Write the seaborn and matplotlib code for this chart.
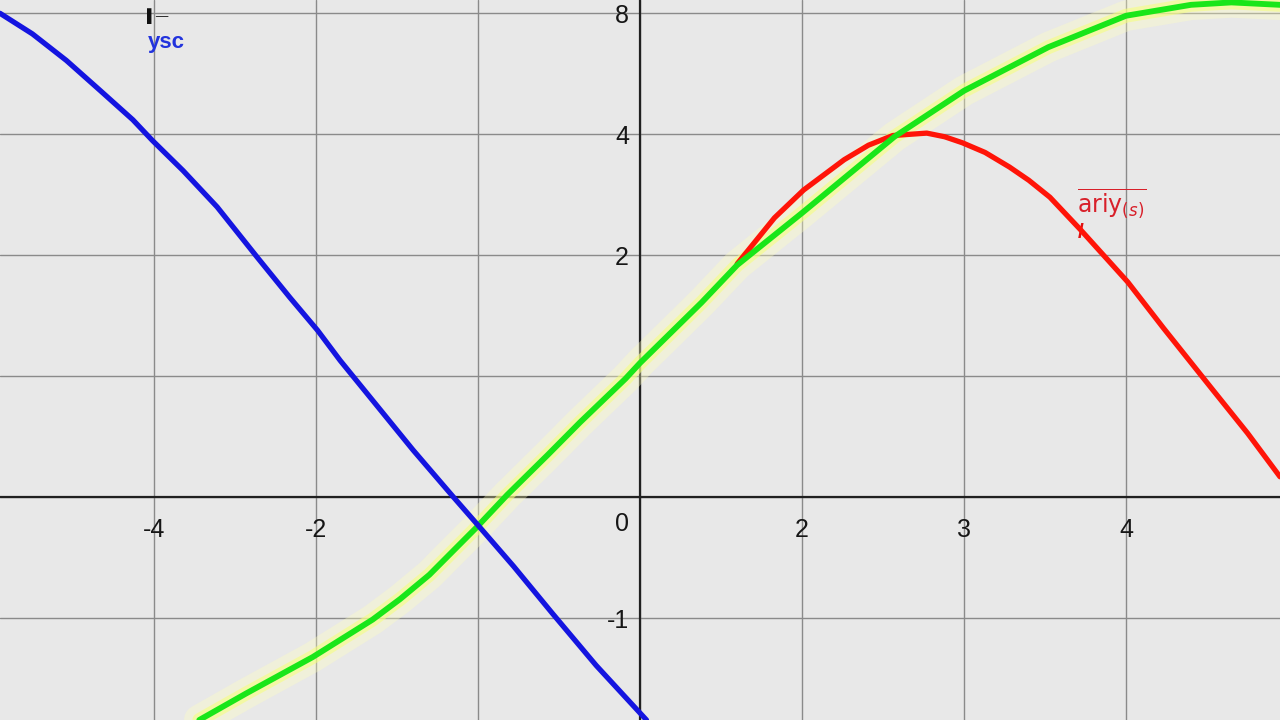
import numpy as np
import pandas as pd
import matplotlib
matplotlib.use("Agg")
import matplotlib.pyplot as plt
import seaborn as sns

# values, in grid units (one grid cell = 1)
blue_x = [-3.95, -3.75, -3.54, -3.33, -3.13, -3.01, -2.82, -2.61, -2.36, -2.16, -1.99,
          -1.85, -1.40, -1.15, -1.00, -0.78, -0.54, -0.27, 0.04]
blue_y = [4.00, 3.83, 3.61, 3.36, 3.12, 2.95, 2.70, 2.40, 1.98, 1.65, 1.38,
          1.13, 0.39, 0.00, -0.23, -0.57, -0.96, -1.39, -1.84]

green_x = [-2.72, -2.43, -2.02, -1.65, -1.48, -1.30, -1.01, -0.82, -0.57, -0.37, -0.09,
           0.00, 0.38, 0.60, 1.00, 1.57, 2.00, 2.52, 3.00, 3.40, 3.65, 3.95]
green_y = [-1.84, -1.62, -1.32, -1.01, -0.84, -0.64, -0.25, 0.02, 0.35, 0.62, 0.98,
           1.11, 1.61, 1.92, 2.35, 2.98, 3.36, 3.72, 3.98, 4.07, 4.09, 4.07]

red_x = [0.60, 0.83, 1.01, 1.26, 1.41, 1.56, 1.77, 1.88, 1.99, 2.13, 2.28, 2.40, 2.53,
         2.72, 3.01, 3.23, 3.54, 3.75, 3.95]
red_y = [1.93, 2.31, 2.54, 2.79, 2.91, 2.99, 3.01, 2.98, 2.93, 2.85, 2.73, 2.62, 2.48,
         2.21, 1.78, 1.40, 0.88, 0.53, 0.17]

x_ticks = [-3, -2, -1, 0, 1, 2, 3]
x_labels = ["-4", "-2", "", "", "2", "3", "4"]
y_ticks = [-1, 0, 1, 2, 3, 4]
y_labels = ["-1", "", "", "2", "4", "8"]

sns.set_style("whitegrid", {"axes.facecolor": "#e8e8e8", "grid.color": "#8a8a8a"})
plt.rcParams["font.family"] = ["Liberation Sans", "DejaVu Sans"]

blue = pd.DataFrame({"x": blue_x, "y": blue_y})
green = pd.DataFrame({"x": green_x, "y": green_y})
red = pd.DataFrame({"x": red_x, "y": red_y})

fig = plt.figure(figsize=(12.8, 7.2), dpi=100)
fig.patch.set_facecolor("#e8e8e8")
ax = fig.add_axes([0, 0, 1, 1])

# soft yellow glow under the green curve
sns.lineplot(data=green, x="x", y="y", ax=ax, color="#ffffc0", lw=22, alpha=0.35, zorder=3)
sns.lineplot(data=green, x="x", y="y", ax=ax, color="#f6ff80", lw=10, alpha=0.6, zorder=3)
sns.lineplot(data=red, x="x", y="y", ax=ax, color="#ff1408", lw=3.8, zorder=4)
sns.lineplot(data=green, x="x", y="y", ax=ax, color="#19e619", lw=4.2, zorder=5)
sns.lineplot(data=blue, x="x", y="y", ax=ax, color="#1414e0", lw=3.8, zorder=5)

ax.set_xlim(-3.95, 3.95)
ax.set_ylim(-1.84, 4.11)
ax.set_xlabel("")
ax.set_ylabel("")

for side in ["top", "right"]:
    ax.spines[side].set_visible(False)
ax.spines["left"].set_position("zero")
ax.spines["bottom"].set_position("zero")
for side in ["left", "bottom"]:
    ax.spines[side].set_color("#202020")
    ax.spines[side].set_linewidth(1.6)
    ax.spines[side].set_zorder(2)

# ticks after the spines move, otherwise they get reset
ax.set_xticks(x_ticks)
ax.set_xticklabels(x_labels, fontsize=18, color="#161616")
ax.set_yticks(y_ticks)
ax.set_yticklabels(y_labels, fontsize=18, color="#161616")
ax.tick_params(axis="x", length=0, pad=15)
ax.tick_params(axis="y", length=0, pad=8)
ax.grid(True, color="#8a8a8a", lw=1.0)

ax.text(-0.11, -0.22, "0", fontsize=18, ha="center", va="center", color="#161616")

# stray labels
ax.text(-3.04, 3.98, "▌—", fontsize=9, ha="left", va="center", color="#111111")
ax.text(-3.04, 3.76, "ysc", fontsize=16, ha="left", va="center", color="#2233dd",
        fontweight="bold")
ax.text(2.7, 2.43, r"$\overline{\mathrm{ariy}_{(s)}}$", fontsize=17, ha="left",
        va="center", color="#d8202a")
ax.text(2.72, 2.19, "/", fontsize=15, ha="center", va="center", color="#e01010",
        fontweight="bold")

fig.savefig("out.png", dpi=100, facecolor=fig.get_facecolor())
plt.close()
